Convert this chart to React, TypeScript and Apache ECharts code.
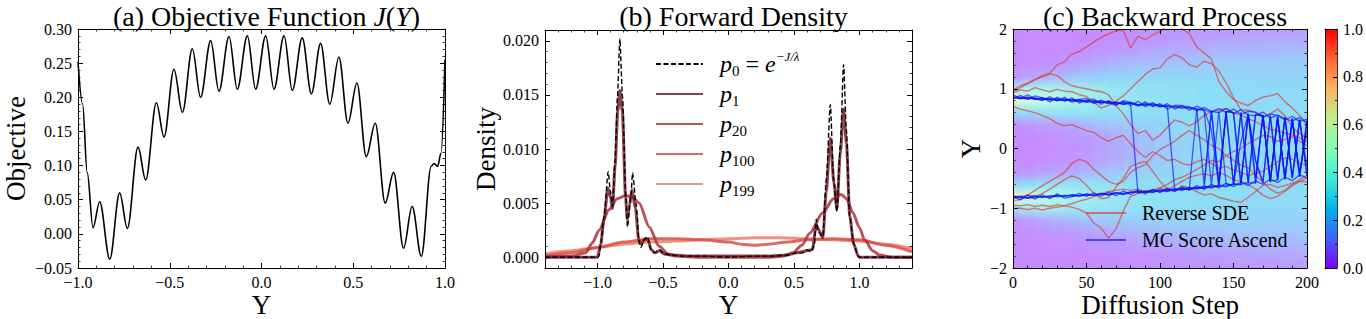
import React, { useEffect, useRef } from 'react';
import * as echarts from 'echarts';

const FONT = 'Liberation Serif';

// ---------- Panel (a): objective J(Y) ----------
const A_Y = [-1.0, -0.975, -0.95, -0.918, -0.882, -0.827, -0.773, -0.731, -0.673, -0.631, -0.573, -0.531, -0.477, -0.431, -0.377, -0.332, -0.277, -0.232, -0.177, -0.132, -0.077, -0.032, 0.023, 0.068, 0.123, 0.168, 0.222, 0.272, 0.322, 0.372, 0.422, 0.471, 0.52, 0.571, 0.62, 0.674, 0.72, 0.774, 0.821, 0.871, 0.925, 0.94, 0.96, 0.978, 1.0];
const A_J = [0.252, 0.19, 0.09, 0.009, 0.047, -0.037, 0.06, 0.008, 0.127, 0.079, 0.192, 0.142, 0.241, 0.178, 0.271, 0.2, 0.283, 0.209, 0.289, 0.212, 0.29, 0.212, 0.29, 0.212, 0.29, 0.21, 0.287, 0.205, 0.279, 0.19, 0.259, 0.162, 0.221, 0.113, 0.162, 0.045, 0.09, -0.021, 0.04, -0.033, 0.099, 0.103, 0.099, 0.118, 0.255];
const A_X_TICKS = [-1, -0.5, 0, 0.5, 1];
const A_Y_TICKS = [-0.05, 0, 0.05, 0.1, 0.15, 0.2, 0.25, 0.3];

// ---------- Panel (b): forward densities ----------
const P0_X = [-1.4, -1.0, -0.987, -0.974, -0.949, -0.918, -0.902, -0.885, -0.865, -0.847, -0.829, -0.809, -0.783, -0.771, -0.745, -0.732, -0.706, -0.681, -0.668, -0.643, -0.618, -0.592, -0.567, -0.528, -0.49, -0.43, -0.35, -0.2, 0, 0.2, 0.35, 0.45, 0.52, 0.57, 0.6, 0.63, 0.655, 0.67, 0.683, 0.695, 0.72, 0.746, 0.777, 0.802, 0.827, 0.853, 0.878, 0.899, 0.924, 0.955, 0.988, 1.0, 1.4];
const P0 = [0, 0, 0.0001, 0.0013, 0.0038, 0.0079, 0.0062, 0.0047, 0.009, 0.0149, 0.0202, 0.0149, 0.0056, 0.0028, 0.0056, 0.0078, 0.005, 0.0013, 0.0009, 0.0016, 0.0019, 0.0007, 0.0004, 0.0007, 0.0003, 0.0002, 0.0001, 0.0001, 0, 0.0001, 0.0001, 0.0002, 0.0004, 0.0004, 0.0007, 0.0005, 0.0012, 0.0035, 0.0024, 0.0022, 0.0019, 0.0072, 0.0141, 0.0072, 0.0042, 0.0103, 0.0178, 0.0118, 0.0038, 0.0013, 0.0001, 0, 0];
const P1_X = [-1.4, -1.0, -0.975, -0.95, -0.92, -0.9, -0.885, -0.865, -0.845, -0.829, -0.81, -0.785, -0.772, -0.755, -0.737, -0.71, -0.685, -0.665, -0.64, -0.615, -0.59, -0.56, -0.525, -0.49, -0.43, -0.3, 0, 0.3, 0.45, 0.52, 0.6, 0.64, 0.67, 0.69, 0.72, 0.745, 0.777, 0.805, 0.827, 0.852, 0.878, 0.9, 0.925, 0.955, 0.99, 1.0, 1.4];
const P1 = [0, 0, 0.0012, 0.0035, 0.0064, 0.0055, 0.0045, 0.0085, 0.0135, 0.0154, 0.0135, 0.0055, 0.0035, 0.0048, 0.0062, 0.0045, 0.0016, 0.0012, 0.0017, 0.0016, 0.0007, 0.0004, 0.0006, 0.0003, 0.0002, 0.0001, 0.0001, 0.0001, 0.0002, 0.0004, 0.0006, 0.0007, 0.003, 0.0025, 0.0018, 0.006, 0.011, 0.0068, 0.0045, 0.0095, 0.0137, 0.0105, 0.0038, 0.0012, 0.0001, 0, 0];
const P20_X = [-1.4, -1.2, -1.09, -1.04, -0.987, -0.911, -0.85, -0.783, -0.73, -0.682, -0.605, -0.529, -0.46, -0.401, -0.2, 0.3, 0.42, 0.49, 0.56, 0.618, 0.72, 0.8, 0.86, 0.9, 0.949, 1.0, 1.038, 1.1, 1.153, 1.25, 1.4];
const P20 = [0, 0.0001, 0.0004, 0.0013, 0.0025, 0.0044, 0.0054, 0.0057, 0.0055, 0.005, 0.0028, 0.001, 0.0003, 0.0001, 0, 0, 0.0001, 0.0004, 0.0011, 0.0022, 0.0041, 0.0054, 0.0058, 0.0054, 0.0041, 0.0027, 0.0016, 0.0006, 0.0002, 0, 0];
const P100_X = [-1.4, -1.2, -1.0, -0.8, -0.6, -0.4, -0.2, 0, 0.1, 0.2, 0.3, 0.45, 0.6, 0.8, 1.0, 1.2, 1.4];
const P100 = [0.0001, 0.0004, 0.0009, 0.0014, 0.0017, 0.0017, 0.0016, 0.0014, 0.0012, 0.0011, 0.0012, 0.0014, 0.0016, 0.0017, 0.0016, 0.0011, 0.0005];
const P199_X = [-1.4, -1.2, -1.0, -0.8, -0.6, -0.4, -0.2, 0, 0.2, 0.4, 0.6, 0.8, 1.0, 1.2, 1.4];
const P199 = [0.0003, 0.0006, 0.0009, 0.0012, 0.0014, 0.0015, 0.0016, 0.0017, 0.0018, 0.0018, 0.0017, 0.0016, 0.0015, 0.0012, 0.0008];
const B_X_TICKS = [-1, -0.5, 0, 0.5, 1];
const B_Y_TICKS = [0, 0.005, 0.01, 0.015, 0.02];

// ---------- Panel (c): backward process ----------
const STEPS = [0, 5, 10, 15, 20, 25, 30, 35, 40, 45, 50, 55, 60, 65, 70, 75, 80, 85, 90, 95, 100, 105, 110, 115, 120, 125, 130, 135, 140, 145, 150, 155, 160, 165, 170, 175, 180, 185, 190, 195, 200];
const SDE_1 = [0.98, 1.05, 1.1, 1.15, 1.22, 1.26, 1.4, 1.45, 1.58, 1.62, 1.7, 1.78, 1.86, 1.92, 1.97, 1.98, 1.68, 1.88, 1.82, 1.9, 1.96, 2.05, 2.1, 2.0, 1.92, 1.7, 1.6, 1.5, 1.12, 0.95, 0.82, 0.76, 0.72, 0.8, 0.86, 0.88, 0.92, 0.78, 0.68, 0.55, 0.4];
const SDE_2 = [0.93, 0.98, 0.96, 1.02, 0.98, 0.95, 0.99, 0.96, 0.95, 0.9, 0.87, 0.78, 0.68, 0.72, 0.79, 0.88, 1.0, 1.12, 1.24, 1.33, 1.35, 1.5, 1.57, 1.52, 1.4, 1.36, 1.46, 1.42, 1.3, 1.1, 0.85, 0.65, 0.64, 0.6, 0.52, 0.58, 0.66, 0.55, 0.36, 0.25, 0.17];
const SDE_3 = [0.95, 1.02, 1.08, 1.16, 1.2, 1.25, 1.22, 1.12, 1.05, 1.02, 1.0, 0.97, 0.95, 0.9, 0.72, 0.58, 0.4, 0.25, 0.3, 0.14, 0.22, 0.35, 0.48, 0.44, 0.38, 0.45, 0.55, 0.62, 0.64, 0.67, 0.6, 0.56, 0.5, 0.45, 0.38, 0.32, 0.3, 0.26, 0.23, 0.18, 0.11];
const SDE_4 = [0.7, 0.66, 0.63, 0.6, 0.55, 0.5, 0.42, 0.38, 0.4, 0.35, 0.3, 0.27, 0.18, 0.12, 0.18, 0.22, 0.08, -0.05, -0.15, -0.05, -0.12, -0.2, -0.18, -0.25, -0.28, -0.22, -0.18, -0.25, -0.33, -0.3, -0.36, -0.4, -0.45, -0.42, -0.38, -0.3, -0.22, -0.16, -0.18, -0.25, -0.28];
const SDE_5 = [-0.88, -0.85, -0.78, -0.7, -0.62, -0.55, -0.48, -0.4, -0.25, -0.18, -0.22, -0.35, -0.45, -0.55, -0.6, -0.55, -0.4, -0.32, -0.27, -0.12, -0.02, 0.05, 0.12, 0.22, 0.3, 0.22, 0.15, 0.05, 0.0, -0.12, -0.2, -0.28, -0.32, -0.45, -0.56, -0.68, -0.75, -0.7, -0.6, -0.52, -0.45];
const SDE_6 = [-0.8, -0.8, -0.78, -0.8, -0.75, -0.68, -0.6, -0.52, -0.46, -0.5, -0.62, -0.75, -0.84, -0.82, -0.65, -0.5, -0.3, -0.25, -0.22, -0.38, -0.55, -0.68, -0.72, -0.62, -0.66, -0.72, -0.78, -0.76, -0.82, -0.85, -0.88, -0.9, -0.82, -0.72, -0.62, -0.6, -0.65, -0.62, -0.58, -0.55, -0.56];
const SDE_7 = [-0.95, -0.96, -0.94, -0.97, -0.95, -0.97, -0.94, -0.96, -0.98, -1.02, -1.08, -1.25, -1.33, -1.5, -1.35, -1.05, -0.8, -0.75, -0.72, -0.7, -0.66, -0.7, -0.62, -0.55, -0.48, -0.45, -0.42, -0.46, -0.4, -0.45, -0.52, -0.55, -0.6, -0.68, -0.78, -0.84, -0.8, -0.72, -0.62, -0.55, -0.5];
const SDE_8 = [-1.0, -1.0, -1.02, -1.0, -1.03, -1.0, -0.98, -0.96, -0.92, -0.88, -0.85, -0.8, -0.76, -0.72, -0.7, -0.68, -0.7, -0.68, -0.72, -0.7, -0.66, -0.6, -0.52, -0.48, -0.42, -0.35, -0.28, -0.2, -0.22, -0.12, -0.05, 0.0, 0.08, 0.15, 0.22, 0.2, 0.12, 0.15, 0.2, 0.12, 0.05];
const SDE_RUNS = [SDE_1, SDE_2, SDE_3, SDE_4, SDE_5, SDE_6, SDE_7, SDE_8];

const MC_1 = [0.9, 0.84, 0.9, 0.83, 0.8, 0.87, 0.8, 0.86, 0.77, 0.82, 0.84, 0.75, 0.81, 0.76, 0.72, 0.8, 0.77, 0.71, 0.78, 0.7, 0.75, 0.66, 0.72, 0.72, 0.64, 0.71, 0.65, 0.61, 0.67, 0.6, 0.66, 0.57, 0.62, 0.61, 0.52, 0.58, 0.55, 0.48, 0.54, 0.45, 0.49];
const MC_2 = [0.87, 0.83, 0.86, 0.82, 0.85, 0.82, 0.83, 0.8, 0.82, 0.81, 0.77, 0.8, 0.79, 0.75, 0.78, 0.74, 0.77, 0.74, 0.72, 0.75, 0.71, 0.72, 0.69, 0.7, 0.67, 0.66, -0.6, 0.62, -0.55, 0.6, -0.6, 0.1, 0.58, -0.5, 0.55, -0.55, 0.5, -0.5, 0.45, -0.4, 0.3];
const MC_3 = [0.86, 0.84, 0.86, 0.83, 0.84, 0.81, 0.83, 0.81, 0.8, 0.82, 0.78, 0.79, 0.77, 0.78, 0.75, 0.77, 0.75, -0.75, -0.72, -0.74, -0.7, -0.72, -0.68, -0.7, -0.66, -0.68, -0.64, -0.66, -0.62, -0.64, -0.6, -0.61, 0.58, -0.58, 0.56, -0.55, 0.52, -0.5, 0.5, -0.47, 0.45];
const MC_4 = [0.85, 0.84, 0.83, 0.85, 0.82, 0.83, 0.8, 0.82, 0.8, 0.79, 0.8, 0.77, 0.78, 0.76, 0.77, 0.74, 0.76, 0.73, 0.74, 0.72, 0.73, 0.7, -0.7, -0.67, -0.69, -0.65, -0.67, -0.63, -0.64, 0.62, -0.6, 0.6, -0.58, 0.57, 0.55, -0.55, 0.53, -0.52, 0.5, -0.46, 0.46];
const MC_5 = [0.85, 0.86, 0.84, 0.83, 0.82, 0.84, 0.8, 0.83, 0.81, 0.79, 0.8, 0.78, 0.77, 0.79, 0.76, 0.75, 0.76, 0.72, 0.75, 0.73, 0.71, 0.7, 0.71, 0.67, 0.69, 0.66, 0.65, 0.3, -0.62, 0.62, 0.6, -0.58, 0.55, -0.2, -0.57, 0.55, -0.5, 0.52, -0.48, 0.48, -0.3];
const MC_6 = [-0.8, -0.86, -0.78, -0.85, -0.77, -0.84, -0.76, -0.83, -0.81, -0.75, -0.8, -0.74, -0.8, -0.73, -0.79, -0.71, -0.77, -0.7, -0.76, -0.68, -0.74, -0.66, -0.72, -0.64, -0.7, -0.62, -0.68, -0.6, -0.66, -0.58, -0.64, -0.56, -0.62, -0.54, -0.6, -0.51, -0.57, -0.48, -0.54, -0.44, -0.49];
const MC_7 = [-0.8, -0.82, -0.83, -0.8, -0.82, -0.79, -0.81, -0.78, -0.8, -0.79, -0.77, -0.79, -0.76, -0.78, -0.75, -0.77, -0.74, -0.72, -0.74, -0.71, -0.72, -0.7, -0.69, -0.67, -0.68, -0.65, -0.66, 0.64, -0.63, 0.62, 0.6, -0.6, 0.58, -0.2, -0.57, 0.55, -0.54, 0.52, -0.5, 0.49, -0.45];
const MC_8 = [-0.84, -0.81, -0.83, -0.82, -0.8, -0.82, -0.79, -0.8, -0.78, -0.8, -0.77, -0.78, -0.76, -0.77, -0.74, -0.76, -0.73, -0.74, -0.71, -0.73, -0.69, -0.71, -0.67, -0.69, -0.65, -0.67, -0.63, -0.65, -0.61, -0.63, -0.59, -0.6, -0.57, -0.58, 0.56, -0.55, 0.53, -0.5, 0.5, -0.47, 0.47];
const MC_9 = [-0.82, -0.8, -0.82, -0.79, -0.81, -0.8, -0.78, -0.8, -0.77, -0.79, -0.76, -0.78, -0.75, -0.77, -0.74, -0.75, -0.73, -0.71, -0.73, -0.7, -0.71, -0.68, -0.7, -0.66, -0.67, 0.66, 0.64, -0.62, 0.62, -0.6, -0.6, 0.6, -0.57, 0.57, 0.55, -0.55, -0.52, 0.52, -0.49, 0.48, -0.46];
const MC_10 = [0.83, 0.89, 0.82, 0.88, 0.85, 0.78, 0.86, 0.79, 0.85, 0.76, 0.81, 0.83, 0.74, 0.8, 0.73, 0.79, 0.72, 0.79, 0.7, 0.77, 0.69, 0.75, 0.66, 0.71, 0.7, 0.63, 0.69, 0.62, 0.6, 0.67, 0.58, 0.65, 0.56, 0.55, 0.61, 0.51, 0.56, 0.5, 0.46, 0.52, 0.43];
const MC_RUNS = [MC_1, MC_2, MC_3, MC_4, MC_5, MC_6, MC_7, MC_8, MC_9, MC_10];

// density background: one profile per diffusion-step column, values at HEAT_Y (bottom to top)
const HEAT_STEPS = [0, 10, 20, 30, 40, 50, 60, 70, 80, 90, 100, 110, 120, 130, 140, 150, 160, 170, 180, 190, 200];
const HEAT_Y = [-2, -1.8, -1.6, -1.4, -1.2, -1.0, -0.8, -0.6, -0.4, -0.2, 0, 0.2, 0.4, 0.6, 0.8, 1.0, 1.2, 1.4, 1.6, 1.8, 2];
const HEAT_COLUMNS = [
  [0, 0, 0, 0, 0.02, 0.3, 0.62, 0.22, 0.02, 0, 0, 0, 0.02, 0.22, 0.65, 0.32, 0.03, 0, 0, 0, 0],
  [0, 0, 0, 0.01, 0.05, 0.33, 0.55, 0.25, 0.03, 0, 0, 0, 0.03, 0.25, 0.57, 0.35, 0.06, 0.01, 0, 0, 0],
  [0, 0, 0, 0.02, 0.08, 0.34, 0.48, 0.27, 0.05, 0.01, 0, 0.01, 0.05, 0.27, 0.5, 0.36, 0.09, 0.02, 0, 0, 0],
  [0, 0, 0.01, 0.03, 0.11, 0.33, 0.42, 0.28, 0.07, 0.02, 0.01, 0.02, 0.07, 0.28, 0.43, 0.35, 0.13, 0.03, 0.01, 0, 0],
  [0, 0, 0.01, 0.04, 0.14, 0.31, 0.37, 0.28, 0.09, 0.03, 0.02, 0.03, 0.09, 0.28, 0.38, 0.33, 0.16, 0.05, 0.01, 0, 0],
  [0, 0, 0.02, 0.06, 0.16, 0.3, 0.34, 0.28, 0.12, 0.05, 0.03, 0.05, 0.12, 0.28, 0.35, 0.32, 0.19, 0.08, 0.02, 0, 0],
  [0, 0.01, 0.03, 0.08, 0.18, 0.29, 0.32, 0.27, 0.15, 0.07, 0.05, 0.07, 0.15, 0.27, 0.32, 0.31, 0.21, 0.1, 0.04, 0.01, 0],
  [0, 0.01, 0.04, 0.1, 0.19, 0.28, 0.3, 0.27, 0.17, 0.1, 0.08, 0.1, 0.17, 0.27, 0.3, 0.29, 0.22, 0.12, 0.05, 0.02, 0],
  [0.01, 0.02, 0.05, 0.11, 0.2, 0.27, 0.29, 0.26, 0.19, 0.13, 0.11, 0.13, 0.19, 0.26, 0.29, 0.28, 0.22, 0.14, 0.06, 0.02, 0.01],
  [0.01, 0.02, 0.06, 0.12, 0.2, 0.26, 0.28, 0.26, 0.21, 0.16, 0.14, 0.16, 0.21, 0.26, 0.28, 0.27, 0.23, 0.15, 0.08, 0.03, 0.01],
  [0.01, 0.03, 0.07, 0.13, 0.21, 0.26, 0.27, 0.26, 0.22, 0.19, 0.17, 0.19, 0.22, 0.26, 0.27, 0.27, 0.23, 0.16, 0.09, 0.04, 0.02],
  [0.02, 0.03, 0.08, 0.14, 0.21, 0.25, 0.26, 0.25, 0.23, 0.21, 0.2, 0.21, 0.23, 0.25, 0.26, 0.26, 0.23, 0.17, 0.1, 0.05, 0.02],
  [0.02, 0.04, 0.09, 0.15, 0.21, 0.25, 0.26, 0.25, 0.24, 0.22, 0.22, 0.22, 0.24, 0.25, 0.26, 0.26, 0.23, 0.18, 0.11, 0.05, 0.03],
  [0.02, 0.05, 0.1, 0.16, 0.21, 0.24, 0.25, 0.25, 0.24, 0.23, 0.23, 0.23, 0.24, 0.25, 0.25, 0.25, 0.23, 0.18, 0.12, 0.06, 0.03],
  [0.03, 0.05, 0.1, 0.16, 0.21, 0.24, 0.25, 0.25, 0.24, 0.24, 0.24, 0.24, 0.24, 0.25, 0.25, 0.25, 0.23, 0.19, 0.13, 0.07, 0.03],
  [0.03, 0.06, 0.11, 0.17, 0.21, 0.24, 0.25, 0.25, 0.25, 0.24, 0.24, 0.24, 0.25, 0.25, 0.25, 0.24, 0.23, 0.19, 0.13, 0.07, 0.04],
  [0.03, 0.06, 0.11, 0.17, 0.21, 0.24, 0.24, 0.25, 0.25, 0.25, 0.24, 0.25, 0.25, 0.25, 0.24, 0.24, 0.23, 0.19, 0.14, 0.08, 0.04],
  [0.04, 0.07, 0.12, 0.17, 0.21, 0.23, 0.24, 0.25, 0.25, 0.25, 0.25, 0.25, 0.25, 0.25, 0.24, 0.24, 0.22, 0.19, 0.14, 0.08, 0.04],
  [0.04, 0.07, 0.12, 0.17, 0.21, 0.23, 0.24, 0.25, 0.25, 0.25, 0.25, 0.25, 0.25, 0.25, 0.24, 0.24, 0.22, 0.19, 0.14, 0.09, 0.05],
  [0.04, 0.08, 0.12, 0.17, 0.21, 0.23, 0.24, 0.25, 0.25, 0.25, 0.25, 0.25, 0.25, 0.25, 0.24, 0.24, 0.22, 0.2, 0.15, 0.09, 0.05],
  [0.05, 0.08, 0.13, 0.18, 0.21, 0.23, 0.24, 0.25, 0.25, 0.25, 0.25, 0.25, 0.25, 0.25, 0.24, 0.23, 0.22, 0.2, 0.15, 0.1, 0.05],
];
const C_X_TICKS = [0, 50, 100, 150, 200];
const C_Y_TICKS = [-2, -1, 0, 1, 2];
const CB_TICKS = [0, 0.2, 0.4, 0.6, 0.8, 1.0];

// matplotlib "rainbow" colormap stops
const RAINBOW = ['#8000ff', '#4062fa', '#00b4eb', '#40ecd4', '#80ffb4', '#c0ec8e', '#ffb462', '#ff6232', '#ff0000'];
const HEAT_ALPHA = 0.45;

const seq = (min: number, max: number, step: number) => {
  const n = Math.round((max - min) / step);
  return Array.from({ length: n + 1 }, (_, i) => +(min + i * step).toFixed(6));
};
const fmt = (d: number) => (v: number) => (v < -1e-9 ? '\u2212' : '') + Math.abs(v).toFixed(d);

type Spec = { min: number; max: number; major: number[]; minor: number[]; fmt?: (v: number) => string; name?: string; nameGap?: number; margin?: number };

function axes(dim: 'x' | 'y', grid: number, s: Spec) {
  const [p1, p2] = dim === 'x' ? ['bottom', 'top'] : ['left', 'right'];
  const base = { type: 'value', gridIndex: grid, min: s.min, max: s.max, splitLine: { show: false }, z: 10 };
  const line = { show: true, onZero: false, lineStyle: { color: '#000', width: 1 } };
  const noLine = { show: false, onZero: false };
  const major = { show: true, inside: true, length: 5, customValues: s.major, lineStyle: { color: '#000', width: 1 } };
  const minor = { show: true, inside: true, length: 2.5, customValues: s.minor, lineStyle: { color: '#000', width: 0.8 } };
  return [
    {
      ...base, position: p1, axisLine: line, axisTick: major,
      axisLabel: s.fmt ? { show: true, customValues: s.major, formatter: s.fmt, color: '#000', fontFamily: FONT, fontSize: 16, margin: s.margin ?? 6 } : { show: false },
      name: s.name, nameLocation: 'middle', nameGap: s.nameGap,
      nameMoveOverlap: dim === 'x' ? false : undefined,
      nameTextStyle: { color: '#000', fontFamily: FONT, fontSize: 27, lineHeight: dim === 'x' ? 22 : 24 },
    },
    { ...base, position: p2, axisLine: line, axisTick: major, axisLabel: { show: false } },
    { ...base, position: p1, axisLine: noLine, axisTick: minor, axisLabel: { show: false } },
    { ...base, position: p2, axisLine: noLine, axisTick: minor, axisLabel: { show: false } },
  ];
}

// colormap value -> colour composited over white (opaque, so touching strips do not double up)
const heatColor = (v: number) => {
  const c = echarts.color.parse(echarts.color.lerp(Math.max(0, Math.min(1, v)), RAINBOW)) as number[];
  const m = (k: number) => Math.round(255 * (1 - HEAT_ALPHA) + c[k] * HEAT_ALPHA);
  return `rgb(${m(0)},${m(1)},${m(2)})`;
};

const legendRich = {
  it: { fontFamily: FONT, fontStyle: 'italic', fontSize: 24, lineHeight: 28, color: '#000' },
  rm: { fontFamily: FONT, fontSize: 24, lineHeight: 28, color: '#000' },
  sb: { fontFamily: FONT, fontSize: 15, lineHeight: 14, verticalAlign: 'bottom', color: '#000' },
  sp: { fontFamily: FONT, fontStyle: 'italic', fontSize: 13, lineHeight: 14, verticalAlign: 'top', color: '#000' },
};

export default function App() {
  const ref = useRef<HTMLDivElement>(null);
  useEffect(() => {
    if (!ref.current) return;
    const chart = echarts.init(ref.current, undefined, { renderer: 'svg' });
    const line = (name: string, xs: number[], ys: number[], color: string, width: number, extra: any = {}) => ({
      type: 'line', name, xAxisIndex: 4, yAxisIndex: 4, symbol: 'none', silent: true,
      data: xs.map((x, i) => [x, ys[i]]), smooth: 0.25, smoothMonotone: 'x',
      lineStyle: { color, width, ...extra }, itemStyle: { color },
    });

    const titleStyle = { fontFamily: FONT, fontSize: 28, fontWeight: 'normal', color: '#000' };
    const option: any = {
      animation: false,
      backgroundColor: '#fff',
      textStyle: { fontFamily: FONT },
      title: [
        { text: '(a) Objective Function {i|J}({i|Y})', left: 261.5, top: -3, textAlign: 'center', textStyle: { ...titleStyle, rich: { i: { fontFamily: FONT, fontSize: 28, fontStyle: 'italic', color: '#000' } } } },
        { text: '(b) Forward Density', left: 728.5, top: -3, textAlign: 'center', textStyle: titleStyle },
        { text: '(c) Backward Process', left: 1160, top: -3, textAlign: 'center', textStyle: titleStyle },
      ],
      grid: [
        { left: 78, top: 29, width: 367, height: 239, outerBoundsMode: 'none' },
        { left: 545, top: 30, width: 367, height: 238, outerBoundsMode: 'none' },
        { left: 1013, top: 29, width: 294, height: 239, outerBoundsMode: 'none' },
        { left: 1325, top: 29, width: 12, height: 239, outerBoundsMode: 'none' },
      ],
      xAxis: [
        ...axes('x', 0, { min: -1, max: 1, major: A_X_TICKS, minor: seq(-1, 1, 0.1), fmt: fmt(1), name: 'Y', nameGap: 26 }),
        ...axes('x', 1, { min: -1.4, max: 1.4, major: B_X_TICKS, minor: seq(-1.4, 1.4, 0.1), fmt: fmt(1), name: 'Y', nameGap: 26 }),
        ...axes('x', 2, { min: 0, max: 200, major: C_X_TICKS, minor: seq(0, 200, 10), fmt: (v: number) => String(v), name: 'Diffusion Step', nameGap: 26 }),
        ...axes('x', 3, { min: 0, max: 1, major: [], minor: [] }),
      ],
      yAxis: [
        ...axes('y', 0, { min: -0.05, max: 0.3, major: A_Y_TICKS, minor: seq(-0.05, 0.3, 0.01), fmt: fmt(2), name: 'Objective', nameGap: 50 }),
        ...axes('y', 1, { min: -0.001, max: 0.021, major: B_Y_TICKS, minor: seq(-0.001, 0.021, 0.001), fmt: fmt(3), name: 'Density', nameGap: 46 }),
        ...axes('y', 2, { min: -2, max: 2, major: C_Y_TICKS, minor: seq(-2, 2, 0.2), fmt: fmt(0), name: 'Y', nameGap: 30 }),
        {
          type: 'value', gridIndex: 3, min: 0, max: 1, position: 'left', z: 10, splitLine: { show: false },
          axisLine: { show: true, onZero: false, lineStyle: { color: '#000', width: 0.8 } }, axisTick: { show: false }, axisLabel: { show: false },
        },
        {
          type: 'value', gridIndex: 3, min: 0, max: 1, position: 'right', z: 10, splitLine: { show: false },
          axisLine: { show: true, onZero: false, lineStyle: { color: '#000', width: 0.8 } },
          axisTick: { show: true, inside: true, length: 4, customValues: CB_TICKS, lineStyle: { color: '#000' } },
          axisLabel: { show: true, customValues: CB_TICKS, formatter: fmt(1), color: '#000', fontFamily: FONT, fontSize: 16, margin: 6 },
        },
        {
          type: 'value', gridIndex: 3, min: 0, max: 1, position: 'right', z: 10, splitLine: { show: false },
          axisLine: { show: false, onZero: false }, axisLabel: { show: false },
          axisTick: { show: true, inside: true, length: 2, customValues: seq(0, 1, 0.1), lineStyle: { color: '#000', width: 0.8 } },
        },
        { type: 'value', gridIndex: 3, min: 0, max: 1, position: 'left', show: false },
      ],
      legend: [
        {
          data: ['p0', 'p1', 'p20', 'p100', 'p199'], orient: 'vertical', left: 655, top: 50, padding: 0,
          itemWidth: 47, itemHeight: 14, itemGap: 4, selectedMode: false, itemStyle: { opacity: 0 },
          formatter: (n: string) => n === 'p0' ? '{it|p}{sb|0}{rm| = }{it|e}{sp|\u2212J/\u03bb}' : `{it|p}{sb|${n.slice(1)}}`,
          textStyle: { rich: legendRich, padding: [0, 0, 0, 12] },
        },
        {
          data: ['Reverse SDE', 'MC Score Ascend'], orient: 'vertical', left: 1085, top: 202, padding: 0,
          itemWidth: 40, itemHeight: 14, itemGap: 5, selectedMode: false, itemStyle: { opacity: 0 },
          textStyle: { fontFamily: FONT, fontSize: 20, lineHeight: 22, color: '#000', padding: [0, 0, 0, 11] },
        },
      ],
      series: [
        {
          type: 'line', name: 'J', xAxisIndex: 0, yAxisIndex: 0, symbol: 'none', silent: true,
          data: A_Y.map((x, i) => [x, A_J[i]]), smooth: 0.35, smoothMonotone: 'x',
          lineStyle: { color: '#000', width: 1.6 },
        },
        line('p199', P199_X, P199, 'rgba(236,128,106,0.85)', 3),
        line('p100', P100_X, P100, 'rgba(214,80,70,0.85)', 3),
        line('p20', P20_X, P20, 'rgba(176,52,60,0.85)', 3),
        line('p1', P1_X, P1, 'rgba(120,30,45,0.85)', 3),
        line('p0', P0_X, P0, '#000', 1.4, { type: [5, 2.5] }),
        {
          type: 'custom', name: 'density', xAxisIndex: 8, yAxisIndex: 8, silent: true, z: 1,
          data: HEAT_STEPS.map((t, i) => [t, i]),
          renderItem: (_p: any, api: any) => {
            const t = api.value(0) as number;
            const col = HEAT_COLUMNS[api.value(1) as number];
            const l = Math.max(0, t - 5), r = Math.min(200, t + 5);
            const a = api.coord([l, 2]);
            const b = api.coord([r, -2]);
            const stops = HEAT_Y.map((y, j) => ({ offset: (2 - y) / 4, color: heatColor(col[j]) })).reverse();
            return {
              type: 'rect',
              shape: { x: a[0], y: a[1], width: b[0] - a[0] + (r < 200 ? 1 : 0), height: b[1] - a[1] },
              style: { fill: new echarts.graphic.LinearGradient(0, 0, 0, 1, stops) },
            };
          },
        },
        ...SDE_RUNS.map((ys) => ({
          type: 'line', name: 'Reverse SDE', xAxisIndex: 8, yAxisIndex: 8, symbol: 'none', silent: true, z: 3,
          data: STEPS.map((t, i) => [t, ys[i]]),
          lineStyle: { color: 'rgba(226,44,44,0.6)', width: 1.4 }, itemStyle: { color: 'rgba(226,44,44,0.6)' },
        })),
        ...MC_RUNS.map((ys) => ({
          type: 'line', name: 'MC Score Ascend', xAxisIndex: 8, yAxisIndex: 8, symbol: 'none', silent: true, z: 4,
          data: STEPS.map((t, i) => [t, ys[i]]),
          lineStyle: { color: 'rgba(15,15,245,0.65)', width: 1.3 }, itemStyle: { color: 'rgba(15,15,245,0.65)' },
        })),
        {
          type: 'custom', name: 'colorbar', xAxisIndex: 12, yAxisIndex: 12, silent: true, z: 1,
          data: [[0, 0]],
          renderItem: (_p: any, api: any) => {
            const a = api.coord([0, 1]);
            const b = api.coord([1, 0]);
            const stops = RAINBOW.map((c, i) => ({ offset: 1 - i / (RAINBOW.length - 1), color: c })).reverse();
            return {
              type: 'rect',
              shape: { x: a[0], y: a[1], width: b[0] - a[0], height: b[1] - a[1] },
              style: { fill: new echarts.graphic.LinearGradient(0, 0, 0, 1, stops) },
            };
          },
        },
      ],
    };
    chart.setOption(option);
    return () => chart.dispose();
  }, []);
  return <div ref={ref} style={{ position: 'absolute', left: 0, top: 0, width: 1366, height: 319 }} />;
}
